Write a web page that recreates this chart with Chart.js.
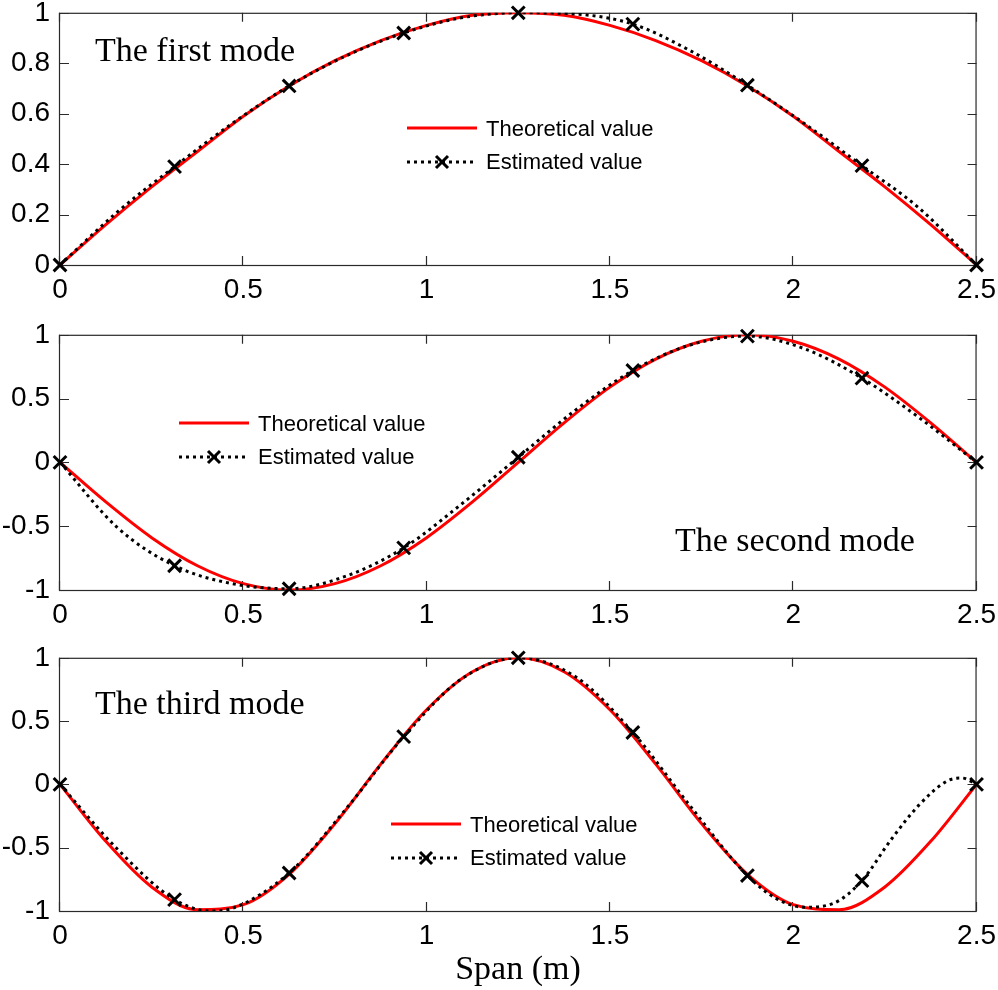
<!DOCTYPE html>
<html><head><meta charset="utf-8">
<script src="https://cdn.jsdelivr.net/npm/chart.js@4/dist/chart.umd.min.js"></script>
<style>
html,body{margin:0;padding:0;background:#fff;width:998px;height:990px;overflow:hidden;position:relative}
canvas{position:absolute}
</style></head><body>
<div id="wrap"></div>
<script>
// ---- tick labels ----
const xTicks = [0, 0.5, 1, 1.5, 2, 2.5];
const xTickLabels = ['0', '0.5', '1', '1.5', '2', '2.5'];
const yTicksMode1 = [0, 0.2, 0.4, 0.6, 0.8, 1];
const yTickLabelsMode1 = ['0', '0.2', '0.4', '0.6', '0.8', '1'];
const yTicksMode23 = [-1, -0.5, 0, 0.5, 1];
const yTickLabelsMode23 = ['-1', '-0.5', '0', '0.5', '1'];

// ---- theoretical mode shapes ----
const theoryX = [0, 0.125, 0.25, 0.375, 0.5, 0.625, 0.75, 0.875, 1, 1.125, 1.25, 1.375, 1.5, 1.625, 1.75, 1.875, 2, 2.125, 2.25, 2.375, 2.5];
const theoryMode1 = [0, 0.16, 0.31, 0.45, 0.59, 0.71, 0.81, 0.89, 0.95, 0.99, 1, 0.99, 0.95, 0.89, 0.81, 0.71, 0.59, 0.45, 0.31, 0.16, 0];
const theoryMode2 = [0, -0.31, -0.59, -0.81, -0.95, -1, -0.95, -0.81, -0.59, -0.31, 0, 0.31, 0.59, 0.81, 0.95, 1, 0.95, 0.81, 0.59, 0.31, 0];
const theoryMode3 = [0, -0.45, -0.81, -0.99, -0.95, -0.71, -0.31, 0.16, 0.59, 0.89, 1, 0.89, 0.59, 0.16, -0.31, -0.71, -0.95, -0.99, -0.81, -0.45, 0];

// ---- estimated values at sensor positions (markers) ----
const markerX = [0, 0.3125, 0.625, 0.9375, 1.25, 1.5625, 1.875, 2.1875, 2.5];
const estMode1 = [0, 0.39, 0.71, 0.92, 1.0, 0.955, 0.713, 0.394, 0];
const estMode2 = [0, -0.81, -0.99, -0.67, 0.04, 0.72, 0.99, 0.66, 0];
const estMode3 = [0, -0.91, -0.70, 0.377, 1.0, 0.41, -0.72, -0.76, 0];

// ---- estimated dotted curves ----
const estCurveX12 = [0, 0.15625, 0.3125, 0.46875, 0.625, 0.78125, 0.9375, 1.09375, 1.25, 1.40625, 1.5625, 1.71875, 1.875, 2.03125, 2.1875, 2.34375, 2.5];
const estCurveMode1 = [0, 0.21, 0.39, 0.56, 0.71, 0.83, 0.92, 0.98, 1.0, 0.995, 0.955, 0.85, 0.713, 0.56, 0.394, 0.225, 0];
const estCurveMode2 = [0, -0.51, -0.81, -0.95, -0.99, -0.89, -0.67, -0.33, 0.04, 0.41, 0.72, 0.92, 0.99, 0.89, 0.66, 0.35, 0];
const estCurveX3 = [0, 0.15625, 0.3125, 0.41, 0.46875, 0.625, 0.78125, 0.9375, 1.09375, 1.25, 1.40625, 1.5625, 1.71875, 1.875, 1.953, 2.031, 2.109, 2.1875, 2.266, 2.344, 2.422, 2.461, 2.5];
const estCurveMode3 = [0, -0.51, -0.91, -1.0, -0.98, -0.70, -0.19, 0.377, 0.83, 1.0, 0.85, 0.41, -0.17, -0.72, -0.90, -0.97, -0.94, -0.76, -0.44, -0.16, 0.03, 0.05, 0];

const seriesNames = ['Theoretical value', 'Estimated value'];
const modeTitles = ['The first mode', 'The second mode', 'The third mode'];
const axisTitle = 'Span (m)';

const TICK_FONT = {family: '"Liberation Sans", Arial, sans-serif', size: 28};
const PLOT_LEFT = 60, PLOT_RIGHT = 977;

const pts = (xs, ys) => xs.map((x, i) => ({x, y: ys[i]}));

const decorPlugin = {
  id: 'decor',
  beforeDatasetsDraw(chart) {
    const {ctx, chartArea: a, scales} = chart;
    const o = chart.options.plugins.decor;
    ctx.save();
    ctx.strokeStyle = '#2a2a2a';
    ctx.lineWidth = 1.2;
    ctx.strokeRect(a.left - 0.5, a.top + 0.5, a.right - a.left, a.bottom - a.top);
    ctx.beginPath();
    o.xTicks.forEach(v => {
      const px = Math.round(scales.x.getPixelForValue(v)) - 0.5;
      ctx.moveTo(px, a.bottom); ctx.lineTo(px, a.bottom - 9);
      ctx.moveTo(px, a.top); ctx.lineTo(px, a.top + 9);
    });
    o.yTicks.forEach(v => {
      const py = Math.round(scales.y.getPixelForValue(v)) + 0.5;
      ctx.moveTo(a.left, py); ctx.lineTo(a.left + 9, py);
      ctx.moveTo(a.right, py); ctx.lineTo(a.right - 9, py);
    });
    ctx.stroke();
    ctx.restore();
  },
  afterDraw(chart) {
    const {ctx} = chart;
    const o = chart.options.plugins.decor;
    const ox = o.canvasLeft, oy = o.canvasTop;
    ctx.save();
    ctx.fillStyle = '#000';
    ctx.font = '34px "Liberation Serif", "Times New Roman", serif';
    ctx.textAlign = 'left';
    ctx.textBaseline = 'alphabetic';
    ctx.fillText(o.title, o.titleX - ox, o.titleY - oy);
    const lx = o.legX - ox, yR = o.legYRed - oy, yE = o.legYEst - oy;
    ctx.lineWidth = 3;
    ctx.strokeStyle = '#ff0000';
    ctx.beginPath(); ctx.moveTo(lx, yR); ctx.lineTo(lx + 70, yR); ctx.stroke();
    ctx.strokeStyle = '#000';
    ctx.setLineDash([3, 4]);
    ctx.beginPath(); ctx.moveTo(lx, yE); ctx.lineTo(lx + 70, yE); ctx.stroke();
    ctx.setLineDash([]);
    const mx = lx + 35, r = 6;
    ctx.beginPath();
    ctx.moveTo(mx - r, yE - r); ctx.lineTo(mx + r, yE + r);
    ctx.moveTo(mx + r, yE - r); ctx.lineTo(mx - r, yE + r);
    ctx.stroke();
    ctx.font = '22px "Liberation Sans", Arial, sans-serif';
    ctx.textBaseline = 'middle';
    ctx.fillText(seriesNames[0], lx + 79, yR + 2);
    ctx.fillText(seriesNames[1], lx + 79, yE + 1);
    if (o.axisTitle) {
      ctx.font = '34px "Liberation Serif", "Times New Roman", serif';
      ctx.textAlign = 'center';
      ctx.textBaseline = 'alphabetic';
      ctx.fillText(o.axisTitle, 518 - ox, 979 - oy);
    }
    ctx.restore();
  }
};

function build(cfg, g) {
  const canvas = document.createElement('canvas');
  canvas.width = g.W; canvas.height = g.H;
  canvas.style.left = g.left + 'px';
  canvas.style.top = g.top + 'px';
  document.getElementById('wrap').appendChild(canvas);
  const chart = new Chart(canvas, {
    type: 'scatter',
    data: {
      datasets: [
        {label: seriesNames[1] + ' markers', data: pts(markerX, cfg.est), showLine: false,
         pointStyle: 'crossRot', pointRadius: 9, pointBorderWidth: 3, borderColor: '#000',
         backgroundColor: '#000', clip: false, order: 0},
        {label: seriesNames[1], data: pts(cfg.curveX, cfg.curve), showLine: true,
         borderColor: '#000', borderWidth: 3, borderDash: [3, 4], pointRadius: 0,
         cubicInterpolationMode: 'monotone', order: 1},
        {label: seriesNames[0], data: pts(theoryX, cfg.theory), showLine: true,
         borderColor: '#ff0000', borderWidth: 3, pointRadius: 0,
         cubicInterpolationMode: 'monotone', order: 2}
      ]
    },
    options: {
      responsive: false, animation: false, devicePixelRatio: 1,
      layout: {padding: {left: 0, right: 0, top: 0, bottom: cfg.padBottom || 0}},
      plugins: {
        legend: {display: false}, tooltip: {enabled: false},
        decor: Object.assign({canvasLeft: g.left, canvasTop: g.top, xTicks, yTicks: cfg.yTicks}, cfg.decor)
      },
      scales: {
        x: {
          type: 'linear', min: 0, max: 2.5,
          grid: {display: false, drawTicks: false}, border: {display: false},
          afterBuildTicks: s => { s.ticks = xTicks.map(v => ({value: v})); },
          afterFit: s => { s.height = 42; },
          ticks: {autoSkip: false, maxRotation: 0, padding: 8, color: '#000', font: TICK_FONT,
                  callback: (v, i) => xTickLabels[i]}
        },
        y: {
          type: 'linear', min: cfg.yMin, max: cfg.yMax,
          grid: {display: false, drawTicks: false}, border: {display: false},
          afterBuildTicks: s => { s.ticks = cfg.yTicks.map(v => ({value: v})); },
          afterFit: s => { s.width = 60; },
          ticks: {padding: 10, color: '#000', font: TICK_FONT,
                  callback: (v, i) => cfg.yLabels[i]}
        }
      }
    },
    plugins: [decorPlugin]
  });
  return {chart, canvas};
}

function makeChart(cfg) {
  const W0 = 998, H0 = 400;
  const first = build(cfg, {W: W0, H: H0, left: 0, top: 0});
  const ca = first.chart.chartArea;
  const Lauto = ca.left, Rauto = W0 - ca.right, Tauto = ca.top, Bauto = H0 - ca.bottom;
  first.chart.destroy();
  first.canvas.remove();
  const left = Math.round(PLOT_LEFT - Lauto);
  const top = Math.round(cfg.plotTop - Tauto);
  const W = Math.round(PLOT_RIGHT - left + Rauto);
  const H = Math.round(cfg.plotH + Tauto + Bauto);
  build(cfg, {W, H, left, top});
}

makeChart({
  plotTop: 13, plotH: 252, yMin: 0, yMax: 1, yTicks: yTicksMode1, yLabels: yTickLabelsMode1,
  theory: theoryMode1, est: estMode1, curveX: estCurveX12, curve: estCurveMode1,
  decor: {title: modeTitles[0], titleX: 95, titleY: 61, legX: 407, legYRed: 128, legYEst: 162}
});
makeChart({
  plotTop: 335, plotH: 255, yMin: -1, yMax: 1, yTicks: yTicksMode23, yLabels: yTickLabelsMode23,
  theory: theoryMode2, est: estMode2, curveX: estCurveX12, curve: estCurveMode2,
  decor: {title: modeTitles[1], titleX: 675, titleY: 551, legX: 179, legYRed: 423, legYEst: 457}
});
makeChart({
  plotTop: 658, plotH: 253, padBottom: 50, yMin: -1, yMax: 1, yTicks: yTicksMode23, yLabels: yTickLabelsMode23,
  theory: theoryMode3, est: estMode3, curveX: estCurveX3, curve: estCurveMode3,
  decor: {title: modeTitles[2], titleX: 95, titleY: 714, legX: 391, legYRed: 824, legYEst: 858, axisTitle: axisTitle}
});
</script>
</body></html>
